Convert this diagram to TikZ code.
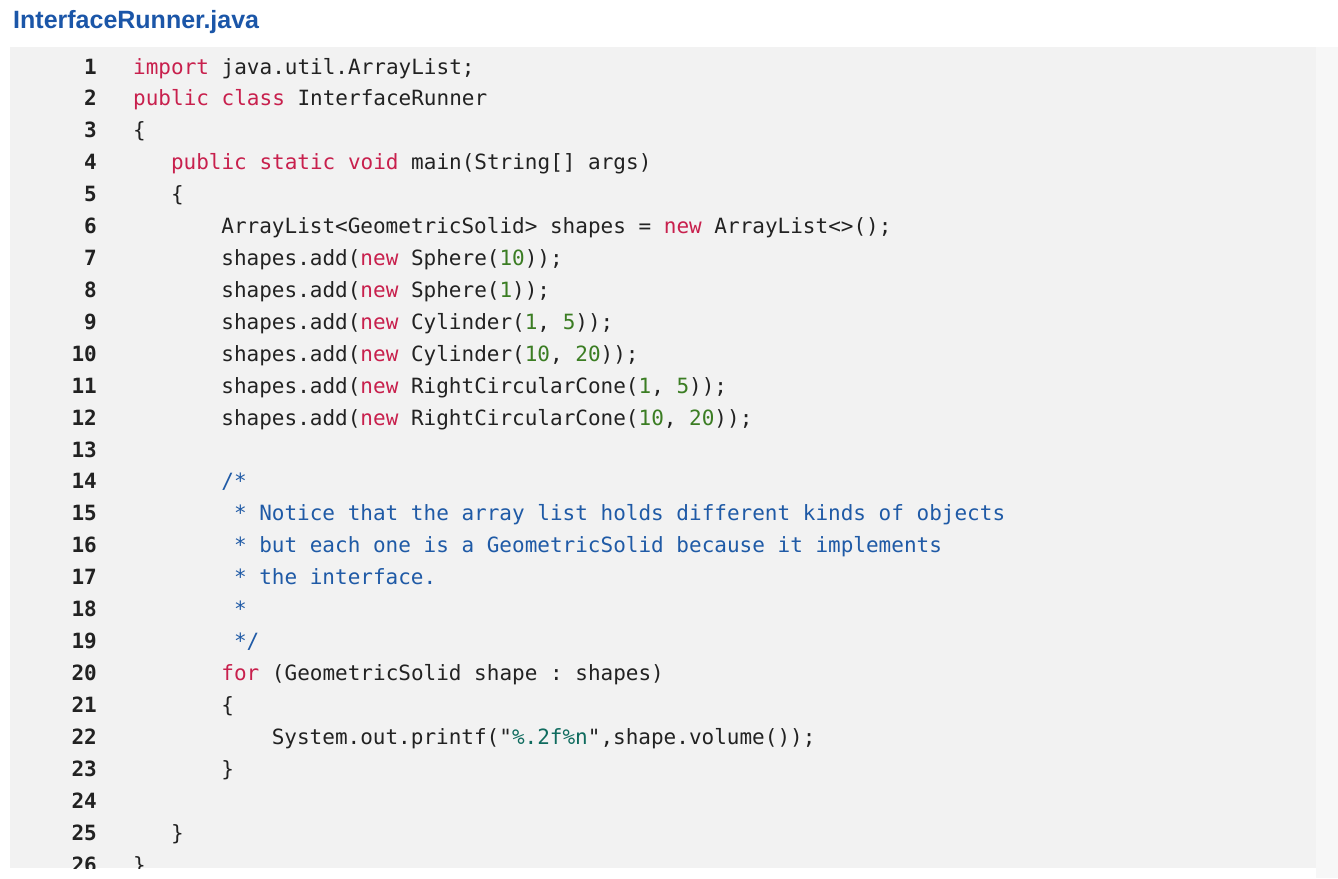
\documentclass[tikz,border=0pt]{standalone}
\usepackage{fontspec}
\setmainfont{Liberation Sans}
\setmonofont{DejaVu Sans Mono}
\definecolor{kw}{HTML}{C8204D}
\definecolor{num}{HTML}{3B7D23}
\definecolor{cm}{HTML}{1F5AA6}
\definecolor{str}{HTML}{0F6B5E}
\definecolor{ttl}{HTML}{1B56A8}
\definecolor{bg}{HTML}{F2F2F2}
\definecolor{txt}{HTML}{222222}
\newcommand{\K}[1]{\textcolor{kw}{#1}}
\newcommand{\Nm}[1]{\textcolor{num}{#1}}
\newcommand{\Cm}[1]{\textcolor{cm}{#1}}
\newcommand{\St}[1]{\textcolor{str}{#1}}
\tikzset{codeline/.style={anchor=base west,inner sep=0pt,font=\ttfamily\fontsize{21}{24}\selectfont,text=txt},
lnum/.style={anchor=base east,inner sep=0pt,font=\ttfamily\bfseries\fontsize{21}{24}\selectfont,text=txt}}
\newcommand{\cl}[3]{\node[codeline] (c#2) at ({133+#1*12.6},{74+(#2-1)*31.92}) {#3};}
\begin{document}
\begin{tikzpicture}[x=1pt,y=-1pt]
\useasboundingbox (0,0) rectangle (1338,878);
\fill[white] (0,0) rectangle (1338,878);
\fill[bg] (10,47) rectangle (1316,868);
\fill[black!3] (1316,47) rectangle (1338,878);
\node[anchor=base west,inner sep=0pt,font=\bfseries\fontsize{25}{30}\selectfont,text=ttl] (title) at (13,28) {InterfaceRunner.java};
\begin{scope}
\clip (10,47) rectangle (1316,868);
\foreach \i in {1,...,26}{\node[lnum] (n\i) at (97,{74+(\i-1)*31.92}) {\i};}
\cl{0}{1}{\K{import} java.util.ArrayList;}
\cl{0}{2}{\K{public} \K{class} InterfaceRunner}
\cl{0}{3}{\{}
\cl{3}{4}{\K{public} \K{static} \K{void} main(String[] args)}
\cl{3}{5}{\{}
\cl{7}{6}{ArrayList<GeometricSolid> shapes = \K{new} ArrayList<>();}
\cl{7}{7}{shapes.add(\K{new} Sphere(\Nm{10}));}
\cl{7}{8}{shapes.add(\K{new} Sphere(\Nm{1}));}
\cl{7}{9}{shapes.add(\K{new} Cylinder(\Nm{1}, \Nm{5}));}
\cl{7}{10}{shapes.add(\K{new} Cylinder(\Nm{10}, \Nm{20}));}
\cl{7}{11}{shapes.add(\K{new} RightCircularCone(\Nm{1}, \Nm{5}));}
\cl{7}{12}{shapes.add(\K{new} RightCircularCone(\Nm{10}, \Nm{20}));}
\cl{7}{14}{\Cm{/*}}
\cl{8}{15}{\Cm{* Notice that the array list holds different kinds of objects}}
\cl{8}{16}{\Cm{* but each one is a GeometricSolid because it implements}}
\cl{8}{17}{\Cm{* the interface.}}
\cl{8}{18}{\Cm{*}}
\cl{8}{19}{\Cm{*/}}
\cl{7}{20}{\K{for} (GeometricSolid shape : shapes)}
\cl{7}{21}{\{}
\cl{11}{22}{System.out.printf("\St{\%.2f\%n}",shape.volume());}
\cl{7}{23}{\}}
\cl{3}{25}{\}}
\cl{0}{26}{\}}
\end{scope}
\end{tikzpicture}
\end{document}
